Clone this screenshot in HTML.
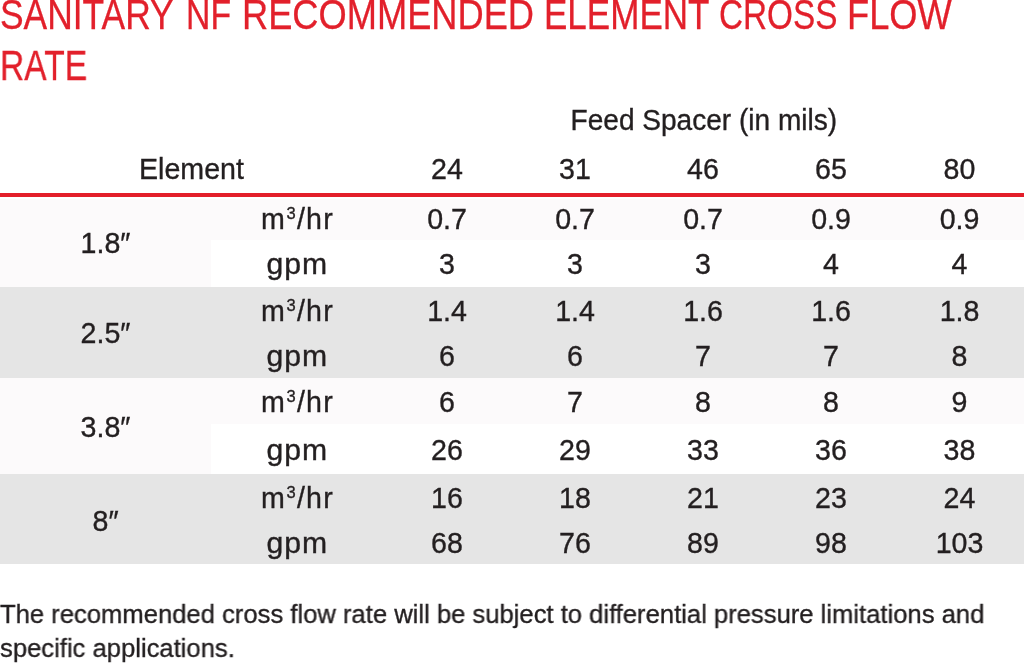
<!DOCTYPE html>
<html>
<head>
<meta charset="utf-8">
<title>Sanitary NF Recommended Element Cross Flow Rate</title>
<style>
html,body{margin:0;padding:0;background:#fff;}
body{width:1024px;height:663px;overflow:hidden;position:relative;font-family:"Liberation Sans",Arial,sans-serif;color:#231f20;}
h1{position:absolute;left:0;top:0;margin:0;font-weight:normal;color:#e2202b;font-size:42px;line-height:50px;white-space:nowrap;}
h1 span{position:absolute;white-space:nowrap;transform-origin:0 0;}
table{position:absolute;left:0;top:104px;border-collapse:separate;border-spacing:0;table-layout:fixed;width:1024px;}
th,td{padding:0;font-weight:normal;text-align:center;font-size:28.6px;line-height:32px;vertical-align:top;white-space:nowrap;}
.h1r th{height:49px;}
.h2r th{height:40px;border-bottom:4px solid #e31e2a;}
tbody tr:first-child td{border-top:2px solid #fff;}
td.el{vertical-align:middle;}
.fs{display:inline-block;transform:scaleX(0.981);}
sup{font-size:16.5px;vertical-align:0;position:relative;top:-10px;margin-left:0.5px;}
.m3{letter-spacing:1.2px;margin-left:1px;}
.gp{display:inline-block;letter-spacing:1px;margin-left:1px;transform:scaleX(1.055);}
.foot{position:absolute;left:0;margin:0;font-size:25.8px;line-height:34px;white-space:nowrap;transform:scaleX(0.9925);transform-origin:0 0;}
h1,table,.foot{will-change:transform;}
th,td,.foot{-webkit-text-stroke:0.35px #231f20;}
h1{-webkit-text-stroke:0.3px #e2202b;}
</style>
</head>
<body>
<h1><span style="left:0.3px;top:-10px;transform:scaleX(0.8424)">SANITARY</span> <span style="left:185.6px;top:-10px;transform:scaleX(0.8039)">NF</span> <span style="left:242.4px;top:-10px;transform:scaleX(0.8632)">RECOMMENDED</span> <span style="left:544.0px;top:-10px;transform:scaleX(0.8344)">ELEMENT</span> <span style="left:718.6px;top:-10px;transform:scaleX(0.7925)">CROSS</span> <span style="left:846.8px;top:-10px;transform:scaleX(0.8636)">FLOW</span> <br><span style="left:0.2px;top:41px;transform:scaleX(0.8000)">RATE</span></h1>

<table>
<colgroup><col style="width:211px"><col style="width:172px"><col style="width:128px"><col style="width:128px"><col style="width:128px"><col style="width:128px"><col style="width:129px"></colgroup>
<thead>
<tr class="h1r"><th colspan="2"></th><th colspan="5"><span class="fs">Feed Spacer (in mils)</span></th></tr>
<tr class="h2r"><th colspan="2">Element</th><th>24</th><th>31</th><th>46</th><th>65</th><th>80</th></tr>
</thead>
<tbody>
<tr style="height:43px;background:#fcfafb"><td rowspan="2" class="el" style="background:#fcfafb"><span style="position:relative;top:-0.5px">1.8&#8243;</span></td><td style="padding-top:4px"><span class="m3">m<sup>3</sup>/hr</span></td><td style="padding-top:4px">0.7</td><td style="padding-top:4px">0.7</td><td style="padding-top:4px">0.7</td><td style="padding-top:4px">0.9</td><td style="padding-top:4px">0.9</td></tr>
<tr style="height:47px;background:#fff"><td style="padding-top:8px"><span class="gp">gpm</span></td><td style="padding-top:8px">3</td><td style="padding-top:8px">3</td><td style="padding-top:8px">3</td><td style="padding-top:8px">4</td><td style="padding-top:8px">4</td></tr>
<tr style="height:46px;background:#e5e5e5"><td rowspan="2" class="el" style="background:#e5e5e5"><span style="position:relative;top:0px">2.5&#8243;</span></td><td style="padding-top:8px"><span class="m3">m<sup>3</sup>/hr</span></td><td style="padding-top:8px">1.4</td><td style="padding-top:8px">1.4</td><td style="padding-top:8px">1.6</td><td style="padding-top:8px">1.6</td><td style="padding-top:8px">1.8</td></tr>
<tr style="height:45px;background:#e5e5e5"><td style="padding-top:7px"><span class="gp">gpm</span></td><td style="padding-top:7px">6</td><td style="padding-top:7px">6</td><td style="padding-top:7px">7</td><td style="padding-top:7px">7</td><td style="padding-top:7px">8</td></tr>
<tr style="height:46px;background:#fcfafb"><td rowspan="2" class="el" style="background:#fcfafb"><span style="position:relative;top:1px">3.8&#8243;</span></td><td style="padding-top:8px"><span class="m3">m<sup>3</sup>/hr</span></td><td style="padding-top:8px">6</td><td style="padding-top:8px">7</td><td style="padding-top:8px">8</td><td style="padding-top:8px">8</td><td style="padding-top:8px">9</td></tr>
<tr style="height:50px;background:#fff"><td style="padding-top:10px"><span class="gp">gpm</span></td><td style="padding-top:10px">26</td><td style="padding-top:10px">29</td><td style="padding-top:10px">33</td><td style="padding-top:10px">36</td><td style="padding-top:10px">38</td></tr>
<tr style="height:45px;background:#e5e5e5"><td rowspan="2" class="el" style="background:#e5e5e5"><span style="position:relative;top:1.5px">8&#8243;</span></td><td style="padding-top:8px"><span class="m3">m<sup>3</sup>/hr</span></td><td style="padding-top:8px">16</td><td style="padding-top:8px">18</td><td style="padding-top:8px">21</td><td style="padding-top:8px">23</td><td style="padding-top:8px">24</td></tr>
<tr style="height:45px;background:#e5e5e5"><td style="padding-top:8px"><span class="gp">gpm</span></td><td style="padding-top:8px">68</td><td style="padding-top:8px">76</td><td style="padding-top:8px">89</td><td style="padding-top:8px">98</td><td style="padding-top:8px">103</td></tr>
</tbody>
</table>

<p class="foot" style="top:597px">The recommended cross flow rate will be subject to differential pressure limitations and</p>
<p class="foot" style="top:631px">specific applications.</p>
</body>
</html>
